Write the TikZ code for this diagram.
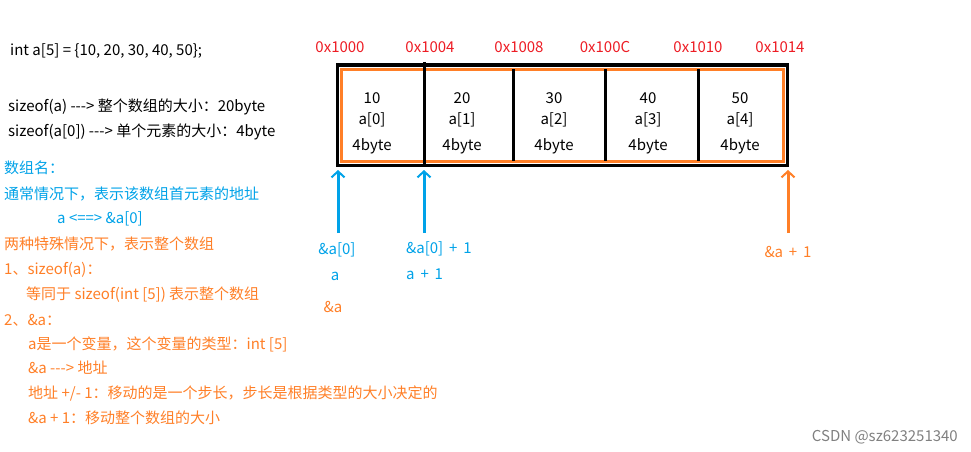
\documentclass[tikz,border=0pt]{standalone}
\usepackage{fontspec}
\setmainfont{Noto Sans CJK SC}
\usetikzlibrary{arrows.meta}
\definecolor{cblue}{RGB}{0,162,232}
\definecolor{corange}{RGB}{255,127,39}
\definecolor{cred}{RGB}{237,28,36}
\newcommand*{\arr}{{-}{-}{-}>}
\tikzset{>={Straight Barb[length=6pt,width=13pt,line width=2pt]},
  txt/.style={anchor=west, inner sep=0pt, font=\fontsize{15}{17}\selectfont},
  addr/.style={inner sep=0pt, text=cred, font=\fontsize{15}{17}\selectfont},
  cell/.style={inner sep=0pt, font=\fontsize{15}{17}\selectfont},
  ptr/.style={->, line width=3pt}}
\begin{document}
\begin{tikzpicture}[x=1pt, y=-1pt]
    \useasboundingbox (0,0) rectangle (971,452);
    % left text
    \node[txt] (decl) at (10,51) {int a[5] = \{10, 20, 30, 40, 50\};};
    \node[txt] (sza) at (8,107) {sizeof(a) \arr{} 整个数组的大小：20byte};
    \node[txt] (szb) at (8,132) {sizeof(a[0]) \arr{} 单个元素的大小：4byte};
    \node[txt, text=cblue] (l1) at (4,168) {数组名：};
    \node[txt, text=cblue] (l2) at (4,194) {通常情况下，表示该数组首元素的地址};
    \node[txt, text=cblue] (l3) at (57,219) {a <{=}{=}> \&a[0]};
    \node[txt, text=corange] (l4) at (4,244) {两种特殊情况下，表示整个数组};
    \node[txt, text=corange] (l5) at (4,270) {1、sizeof(a)：};
    \node[txt, text=corange] (l6) at (26,295) {等同于 sizeof(int [5]) 表示整个数组};
    \node[txt, text=corange] (l7) at (4,320) {2、\&a：};
    \node[txt, text=corange] (l8) at (28,344) {a是一个变量，这个变量的类型：int [5]};
    \node[txt, text=corange] (l9) at (28,368) {\&a \arr{} 地址};
    \node[txt, text=corange] (l10) at (28,393) {地址 +/- 1：移动的是一个步长，步长是根据类型的大小决定的};
    \node[txt, text=corange] (l11) at (28,418) {\&a + 1：移动整个数组的大小};
    % array
    \draw[line width=3pt] (337,65) rectangle (787,165);
    \draw[corange, line width=3pt] (341,69) rectangle (783,161);
    \draw[line width=3pt] (424,62) -- (424,165);
    \foreach \x in {513,605,698}
        \draw[line width=3pt] (\x,69) -- (\x,161);
    \foreach \cx/\v/\i in {372/10/0,462/20/1,554/30/2,648/40/3,740/50/4} {
        \node[cell] (v\i) at (\cx,98) {\v};
        \node[cell] (e\i) at (\cx,120) {a[\i]};
        \node[cell] (b\i) at (\cx,146) {4byte};
    }
    \foreach \cx/\t [count=\k] in {340/0x1000,430/0x1004,519/0x1008,605/0x100C,698/0x1010,780/0x1014}
        \node[addr] (ad\k) at (\cx,47) {\t};
    % pointers
    \coordinate (p0) at (338,170);
    \coordinate (p1) at (424,170);
    \coordinate (p5) at (788,170);
    \node[cell, text=cblue] (n0) at (337,250) {\&a[0]};
    \node[cell, text=cblue] (n0b) at (335,276) {a};
    \node[cell, text=corange] (n0c) at (333,307) {\&a};
    \node[cell, text=cblue, anchor=west] (n1) at (406,249) {\&a[0] \,+\, 1};
    \node[cell, text=cblue, anchor=west] (n1b) at (406,274) {a \,+\, 1};
    \node[cell, text=corange] (n5) at (788,252) {\&a \,+\, 1};
    \draw[ptr, cblue] (338,233) -- (p0);
    \draw[ptr, cblue] (424,233) -- (p1);
    \draw[ptr, corange] (788,233) -- (p5);
    \node[cell, text=gray, anchor=east] (wm) at (958,437) {CSDN @sz623251340};
\end{tikzpicture}
\end{document}
